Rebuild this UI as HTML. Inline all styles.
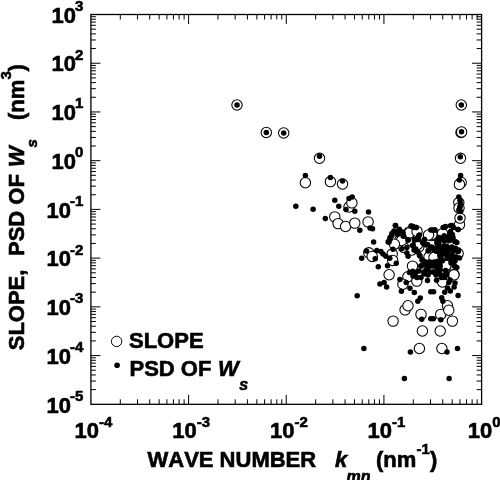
<!DOCTYPE html>
<html><head><meta charset="utf-8"><style>
html,body{margin:0;padding:0;background:#fff;width:500px;height:480px;overflow:hidden}
svg{display:block}
</style></head><body>
<svg width="500" height="480" viewBox="0 0 500 480">
<rect width="500" height="480" fill="#fff"/>
<rect x="90.9" y="14.5" width="390.70" height="389.80" fill="none" stroke="#000" stroke-width="1.3"/>
<path d="M120.30 404.3V399.3M120.30 14.5V19.5M137.50 404.3V399.3M137.50 14.5V19.5M149.71 404.3V399.3M149.71 14.5V19.5M159.17 404.3V399.3M159.17 14.5V19.5M166.91 404.3V399.3M166.91 14.5V19.5M173.44 404.3V399.3M173.44 14.5V19.5M179.11 404.3V399.3M179.11 14.5V19.5M184.11 404.3V399.3M184.11 14.5V19.5M188.58 404.3V394.8M188.58 14.5V24.0M217.98 404.3V399.3M217.98 14.5V19.5M235.18 404.3V399.3M235.18 14.5V19.5M247.38 404.3V399.3M247.38 14.5V19.5M256.85 404.3V399.3M256.85 14.5V19.5M264.58 404.3V399.3M264.58 14.5V19.5M271.12 404.3V399.3M271.12 14.5V19.5M276.78 404.3V399.3M276.78 14.5V19.5M281.78 404.3V399.3M281.78 14.5V19.5M286.25 404.3V394.8M286.25 14.5V24.0M315.65 404.3V399.3M315.65 14.5V19.5M332.85 404.3V399.3M332.85 14.5V19.5M345.06 404.3V399.3M345.06 14.5V19.5M354.52 404.3V399.3M354.52 14.5V19.5M362.26 404.3V399.3M362.26 14.5V19.5M368.79 404.3V399.3M368.79 14.5V19.5M374.46 404.3V399.3M374.46 14.5V19.5M379.46 404.3V399.3M379.46 14.5V19.5M383.93 404.3V394.8M383.93 14.5V24.0M413.33 404.3V399.3M413.33 14.5V19.5M430.53 404.3V399.3M430.53 14.5V19.5M442.73 404.3V399.3M442.73 14.5V19.5M452.20 404.3V399.3M452.20 14.5V19.5M459.93 404.3V399.3M459.93 14.5V19.5M466.47 404.3V399.3M466.47 14.5V19.5M472.13 404.3V399.3M472.13 14.5V19.5M477.13 404.3V399.3M477.13 14.5V19.5M90.9 389.63H95.9M481.6 389.63H476.6M90.9 381.05H95.9M481.6 381.05H476.6M90.9 374.96H95.9M481.6 374.96H476.6M90.9 370.24H95.9M481.6 370.24H476.6M90.9 366.38H95.9M481.6 366.38H476.6M90.9 363.12H95.9M481.6 363.12H476.6M90.9 360.30H95.9M481.6 360.30H476.6M90.9 357.80H95.9M481.6 357.80H476.6M90.9 355.57H100.4M481.6 355.57H472.1M90.9 340.91H95.9M481.6 340.91H476.6M90.9 332.33H95.9M481.6 332.33H476.6M90.9 326.24H95.9M481.6 326.24H476.6M90.9 321.52H95.9M481.6 321.52H476.6M90.9 317.66H95.9M481.6 317.66H476.6M90.9 314.40H95.9M481.6 314.40H476.6M90.9 311.57H95.9M481.6 311.57H476.6M90.9 309.08H95.9M481.6 309.08H476.6M90.9 306.85H100.4M481.6 306.85H472.1M90.9 292.18H95.9M481.6 292.18H476.6M90.9 283.60H95.9M481.6 283.60H476.6M90.9 277.51H95.9M481.6 277.51H476.6M90.9 272.79H95.9M481.6 272.79H476.6M90.9 268.93H95.9M481.6 268.93H476.6M90.9 265.67H95.9M481.6 265.67H476.6M90.9 262.85H95.9M481.6 262.85H476.6M90.9 260.35H95.9M481.6 260.35H476.6M90.9 258.12H100.4M481.6 258.12H472.1M90.9 243.46H95.9M481.6 243.46H476.6M90.9 234.88H95.9M481.6 234.88H476.6M90.9 228.79H95.9M481.6 228.79H476.6M90.9 224.07H95.9M481.6 224.07H476.6M90.9 220.21H95.9M481.6 220.21H476.6M90.9 216.95H95.9M481.6 216.95H476.6M90.9 214.12H95.9M481.6 214.12H476.6M90.9 211.63H95.9M481.6 211.63H476.6M90.9 209.40H100.4M481.6 209.40H472.1M90.9 194.73H95.9M481.6 194.73H476.6M90.9 186.15H95.9M481.6 186.15H476.6M90.9 180.06H95.9M481.6 180.06H476.6M90.9 175.34H95.9M481.6 175.34H476.6M90.9 171.48H95.9M481.6 171.48H476.6M90.9 168.22H95.9M481.6 168.22H476.6M90.9 165.40H95.9M481.6 165.40H476.6M90.9 162.90H95.9M481.6 162.90H476.6M90.9 160.68H100.4M481.6 160.68H472.1M90.9 146.01H95.9M481.6 146.01H476.6M90.9 137.43H95.9M481.6 137.43H476.6M90.9 131.34H95.9M481.6 131.34H476.6M90.9 126.62H95.9M481.6 126.62H476.6M90.9 122.76H95.9M481.6 122.76H476.6M90.9 119.50H95.9M481.6 119.50H476.6M90.9 116.67H95.9M481.6 116.67H476.6M90.9 114.18H95.9M481.6 114.18H476.6M90.9 111.95H100.4M481.6 111.95H472.1M90.9 97.28H95.9M481.6 97.28H476.6M90.9 88.70H95.9M481.6 88.70H476.6M90.9 82.61H95.9M481.6 82.61H476.6M90.9 77.89H95.9M481.6 77.89H476.6M90.9 74.03H95.9M481.6 74.03H476.6M90.9 70.77H95.9M481.6 70.77H476.6M90.9 67.95H95.9M481.6 67.95H476.6M90.9 65.45H95.9M481.6 65.45H476.6M90.9 63.23H100.4M481.6 63.23H472.1M90.9 48.56H95.9M481.6 48.56H476.6M90.9 39.98H95.9M481.6 39.98H476.6M90.9 33.89H95.9M481.6 33.89H476.6M90.9 29.17H95.9M481.6 29.17H476.6M90.9 25.31H95.9M481.6 25.31H476.6M90.9 22.05H95.9M481.6 22.05H476.6M90.9 19.22H95.9M481.6 19.22H476.6M90.9 16.73H95.9M481.6 16.73H476.6" stroke="#000" stroke-width="1.0" fill="none"/>
<g font-family='"Liberation Sans", Arial, Helvetica, sans-serif' font-weight="bold" fill="#000" stroke="#000" stroke-width="0.6"><text x="83.4" y="412.50" text-anchor="end" font-size="22">10<tspan font-size="15" dx="-0.9" dy="-11.8">-5</tspan></text><text x="83.4" y="363.77" text-anchor="end" font-size="22">10<tspan font-size="15" dx="-0.9" dy="-11.8">-4</tspan></text><text x="83.4" y="315.05" text-anchor="end" font-size="22">10<tspan font-size="15" dx="-0.9" dy="-11.8">-3</tspan></text><text x="83.4" y="266.32" text-anchor="end" font-size="22">10<tspan font-size="15" dx="-0.9" dy="-11.8">-2</tspan></text><text x="83.4" y="217.60" text-anchor="end" font-size="22">10<tspan font-size="15" dx="-0.9" dy="-11.8">-1</tspan></text><text x="83.4" y="168.88" text-anchor="end" font-size="22">10<tspan font-size="15" dx="-0.9" dy="-11.8">0</tspan></text><text x="83.4" y="120.15" text-anchor="end" font-size="22">10<tspan font-size="15" dx="-0.9" dy="-11.8">1</tspan></text><text x="83.4" y="71.42" text-anchor="end" font-size="22">10<tspan font-size="15" dx="-0.9" dy="-11.8">2</tspan></text><text x="83.4" y="22.70" text-anchor="end" font-size="22">10<tspan font-size="15" dx="-0.9" dy="-11.8">3</tspan></text><text x="93.50" y="438" text-anchor="middle" font-size="22">10<tspan font-size="15" dy="-10.7">-4</tspan></text><text x="191.18" y="438" text-anchor="middle" font-size="22">10<tspan font-size="15" dy="-10.7">-3</tspan></text><text x="288.85" y="438" text-anchor="middle" font-size="22">10<tspan font-size="15" dy="-10.7">-2</tspan></text><text x="386.53" y="438" text-anchor="middle" font-size="22">10<tspan font-size="15" dy="-10.7">-1</tspan></text><text x="484.20" y="438" text-anchor="middle" font-size="22">10<tspan font-size="15" dy="-10.7">0</tspan></text></g>
<g font-family='"Liberation Sans", Arial, Helvetica, sans-serif' font-weight="bold" fill="#000" stroke="#000" stroke-width="0.6" style="font-kerning:none">
<text x="147.5" y="467" font-size="22">WAVE NUMBER</text>
<text x="335" y="467" font-size="22" font-style="italic">k</text>
<text x="346.5" y="482" font-size="16" font-style="italic">mn</text>
<text x="376" y="467" font-size="22">(nm</text>
<text x="416.5" y="454" font-size="15">-1</text>
<text x="430" y="467" font-size="22">)</text></g>
<g transform="rotate(-90)" font-family='"Liberation Sans", Arial, Helvetica, sans-serif' font-weight="bold" fill="#000" stroke="#000" stroke-width="0.6" style="font-kerning:none">
<text x="-350.3" y="23.8" font-size="22">SLOPE,</text>
<text x="-256" y="23.8" font-size="22">PSD OF</text>
<text x="-167" y="23.8" font-size="22" font-style="italic">W</text>
<text x="-147.5" y="36.5" font-size="15" font-style="italic">s</text>
<text x="-120" y="23.8" font-size="22">(nm</text>
<text x="-79.5" y="10.7" font-size="15">3</text>
<text x="-71.5" y="23.8" font-size="22">)</text></g>
<circle cx="116.6" cy="341.4" r="5.2" fill="#fff" stroke="#000" stroke-width="1"/>
<circle cx="117.1" cy="365.2" r="2.8" fill="#000"/>
<g font-family='"Liberation Sans", Arial, Helvetica, sans-serif' font-weight="bold" fill="#000" stroke="#000" stroke-width="0.6" style="font-kerning:none">
<text x="129" y="348.3" font-size="22">SLOPE</text>
<text x="129.5" y="375.5" font-size="22">PSD OF</text>
<text x="218" y="375.5" font-size="22" font-style="italic">W</text>
<text x="239.3" y="389.7" font-size="16" font-style="italic">s</text></g>
<g fill="#fff" stroke="#000" stroke-width="1.05"><circle cx="237" cy="105" r="5.2"/><circle cx="266.3" cy="132.5" r="5.2"/><circle cx="283.7" cy="133" r="5.2"/><circle cx="461.3" cy="105" r="5.2"/><circle cx="461.0" cy="132.5" r="5.2"/><circle cx="461.6" cy="132.0" r="5.2"/><circle cx="319.5" cy="158.3" r="5.2"/><circle cx="460.5" cy="158.3" r="5.2"/><circle cx="305.4" cy="182.7" r="5.2"/><circle cx="330.4" cy="181.6" r="5.2"/><circle cx="342.5" cy="184" r="5.2"/><circle cx="461.2" cy="182.5" r="5.2"/><circle cx="459.4" cy="184.4" r="5.2"/><circle cx="458.8" cy="202.5" r="5.2"/><circle cx="459" cy="208" r="5.2"/><circle cx="459.5" cy="224.6" r="5.2"/><circle cx="460" cy="218.1" r="5.2"/><circle cx="334.8" cy="216.9" r="5.2"/><circle cx="338.1" cy="223.6" r="5.2"/><circle cx="345.6" cy="226.5" r="5.2"/><circle cx="354.8" cy="223.1" r="5.2"/><circle cx="368.1" cy="221.9" r="5.2"/><circle cx="349" cy="207" r="5.2"/><circle cx="351.9" cy="202.9" r="5.2"/><circle cx="368.8" cy="252.8" r="5.2"/><circle cx="372.2" cy="256.4" r="5.2"/><circle cx="389.1" cy="274.7" r="5.2"/><circle cx="392.2" cy="253.9" r="5.2"/><circle cx="392.7" cy="260.4" r="5.2"/><circle cx="409.4" cy="231.9" r="5.2"/><circle cx="416.2" cy="233.8" r="5.2"/><circle cx="431.9" cy="235.6" r="5.2"/><circle cx="442.5" cy="233.6" r="5.2"/><circle cx="400" cy="240" r="5.2"/><circle cx="403.8" cy="247.5" r="5.2"/><circle cx="411.9" cy="250" r="5.2"/><circle cx="418.8" cy="246.9" r="5.2"/><circle cx="432.5" cy="257.5" r="5.2"/><circle cx="412.5" cy="266.1" r="5.2"/><circle cx="458.1" cy="253.5" r="5.2"/><circle cx="433.1" cy="254.6" r="5.2"/><circle cx="407.9" cy="276.8" r="5.2"/><circle cx="416.8" cy="281.1" r="5.2"/><circle cx="402.9" cy="284.3" r="5.2"/><circle cx="405.1" cy="309.9" r="5.2"/><circle cx="408.0" cy="305.8" r="5.2"/><circle cx="421.0" cy="314.4" r="5.2"/><circle cx="440.7" cy="314.4" r="5.2"/><circle cx="443.8" cy="280" r="5.2"/><circle cx="453.9" cy="274.5" r="5.2"/><circle cx="442.5" cy="282" r="5.2"/><circle cx="445.6" cy="266.5" r="5.2"/><circle cx="447.5" cy="305.8" r="5.2"/><circle cx="448.8" cy="310.3" r="5.2"/><circle cx="452.4" cy="321.1" r="5.2"/><circle cx="422.4" cy="331.0" r="5.2"/><circle cx="440.2" cy="331.0" r="5.2"/><circle cx="393.1" cy="321.1" r="5.2"/><circle cx="419.4" cy="348.5" r="5.2"/><circle cx="441.9" cy="348.5" r="5.2"/><circle cx="409.4" cy="233" r="5.2"/><circle cx="401.6" cy="240.5" r="5.2"/><circle cx="394.4" cy="244.2" r="5.2"/><circle cx="417" cy="231.4" r="5.2"/><circle cx="432" cy="234.5" r="5.2"/><circle cx="428.5" cy="235" r="5.2"/><circle cx="417.6" cy="244.5" r="5.2"/><circle cx="429" cy="257" r="5.2"/><circle cx="434" cy="257.5" r="5.2"/><circle cx="446" cy="265.5" r="5.2"/><circle cx="453.9" cy="274.9" r="5.2"/></g>
<g fill="#000"><circle cx="237" cy="105" r="2.75"/><circle cx="266.3" cy="132.5" r="2.75"/><circle cx="283.7" cy="133" r="2.75"/><circle cx="461.3" cy="105" r="2.75"/><circle cx="461.5" cy="131.8" r="2.75"/><circle cx="319.5" cy="156.3" r="2.75"/><circle cx="460.3" cy="156.7" r="2.75"/><circle cx="305.4" cy="175.6" r="2.75"/><circle cx="330.4" cy="177.5" r="2.75"/><circle cx="342.5" cy="181" r="2.75"/><circle cx="460.6" cy="175.6" r="2.75"/><circle cx="459.4" cy="180" r="2.75"/><circle cx="458.8" cy="196.9" r="2.75"/><circle cx="460" cy="200.6" r="2.75"/><circle cx="460" cy="206.2" r="2.75"/><circle cx="458.8" cy="210" r="2.75"/><circle cx="460" cy="218.1" r="2.75"/><circle cx="295.8" cy="206.2" r="2.75"/><circle cx="313.1" cy="209.2" r="2.75"/><circle cx="325.3" cy="218.4" r="2.75"/><circle cx="334.8" cy="200.2" r="2.75"/><circle cx="338.8" cy="206.2" r="2.75"/><circle cx="349" cy="198.5" r="2.75"/><circle cx="352.2" cy="196.9" r="2.75"/><circle cx="346" cy="209.4" r="2.75"/><circle cx="354.8" cy="211.2" r="2.75"/><circle cx="368.5" cy="211.9" r="2.75"/><circle cx="359.8" cy="230.2" r="2.75"/><circle cx="370" cy="228.1" r="2.75"/><circle cx="372.5" cy="228.8" r="2.75"/><circle cx="373.6" cy="242" r="2.75"/><circle cx="366.4" cy="250.9" r="2.75"/><circle cx="361.7" cy="258.2" r="2.75"/><circle cx="375.2" cy="258.8" r="2.75"/><circle cx="376.8" cy="250.4" r="2.75"/><circle cx="380.9" cy="251.5" r="2.75"/><circle cx="383" cy="254.1" r="2.75"/><circle cx="385.9" cy="256.2" r="2.75"/><circle cx="389.8" cy="258.2" r="2.75"/><circle cx="393.0" cy="249.2" r="2.75"/><circle cx="378.3" cy="266.8" r="2.75"/><circle cx="387.5" cy="265.8" r="2.75"/><circle cx="379.9" cy="284.0" r="2.75"/><circle cx="384.1" cy="282.6" r="2.75"/><circle cx="386.6" cy="287.1" r="2.75"/><circle cx="388.9" cy="242.2" r="2.75"/><circle cx="357.2" cy="295.8" r="2.75"/><circle cx="395.6" cy="225.6" r="2.75"/><circle cx="411.2" cy="226.2" r="2.75"/><circle cx="416.2" cy="227.5" r="2.75"/><circle cx="432.5" cy="230.1" r="2.75"/><circle cx="435" cy="230" r="2.75"/><circle cx="443.1" cy="227.5" r="2.75"/><circle cx="393.8" cy="231.2" r="2.75"/><circle cx="398.8" cy="230.6" r="2.75"/><circle cx="403.1" cy="233.1" r="2.75"/><circle cx="391.9" cy="235.6" r="2.75"/><circle cx="403.8" cy="236.2" r="2.75"/><circle cx="390" cy="239.4" r="2.75"/><circle cx="408.1" cy="240" r="2.75"/><circle cx="418.8" cy="235.6" r="2.75"/><circle cx="415" cy="240" r="2.75"/><circle cx="424.4" cy="239.4" r="2.75"/><circle cx="422.5" cy="242.5" r="2.75"/><circle cx="426.2" cy="245" r="2.75"/><circle cx="440" cy="240" r="2.75"/><circle cx="436.9" cy="243.2" r="2.75"/><circle cx="442.5" cy="247.5" r="2.75"/><circle cx="401.9" cy="248.8" r="2.75"/><circle cx="406.9" cy="247.5" r="2.75"/><circle cx="412.5" cy="245.6" r="2.75"/><circle cx="406.9" cy="253.1" r="2.75"/><circle cx="408.1" cy="256.2" r="2.75"/><circle cx="416.2" cy="251.2" r="2.75"/><circle cx="419.4" cy="255" r="2.75"/><circle cx="422.5" cy="260" r="2.75"/><circle cx="425" cy="265" r="2.75"/><circle cx="428.8" cy="250" r="2.75"/><circle cx="436.2" cy="251.2" r="2.75"/><circle cx="440" cy="255" r="2.75"/><circle cx="437.5" cy="261.2" r="2.75"/><circle cx="435" cy="266.2" r="2.75"/><circle cx="396.3" cy="263.2" r="2.75"/><circle cx="445.6" cy="226.5" r="2.75"/><circle cx="451.9" cy="225.4" r="2.75"/><circle cx="458.1" cy="229.6" r="2.75"/><circle cx="449.8" cy="233.2" r="2.75"/><circle cx="441.5" cy="237.9" r="2.75"/><circle cx="455" cy="241.6" r="2.75"/><circle cx="450.8" cy="240" r="2.75"/><circle cx="446.7" cy="246.2" r="2.75"/><circle cx="432.1" cy="247.3" r="2.75"/><circle cx="454" cy="249.4" r="2.75"/><circle cx="458.1" cy="251.5" r="2.75"/><circle cx="440.4" cy="251.5" r="2.75"/><circle cx="447.7" cy="254.6" r="2.75"/><circle cx="456.0" cy="257.1" r="2.75"/><circle cx="442.5" cy="260.8" r="2.75"/><circle cx="451.4" cy="262.4" r="2.75"/><circle cx="409.4" cy="272.5" r="2.75"/><circle cx="412.5" cy="271.2" r="2.75"/><circle cx="413.8" cy="275.6" r="2.75"/><circle cx="416.9" cy="277.5" r="2.75"/><circle cx="421.0" cy="277.5" r="2.75"/><circle cx="399.9" cy="279.5" r="2.75"/><circle cx="406.2" cy="282.5" r="2.75"/><circle cx="427.5" cy="280.5" r="2.75"/><circle cx="436.6" cy="280.3" r="2.75"/><circle cx="410.0" cy="288.2" r="2.75"/><circle cx="401.4" cy="291.2" r="2.75"/><circle cx="414.3" cy="292.5" r="2.75"/><circle cx="430.8" cy="291.8" r="2.75"/><circle cx="433.6" cy="291.8" r="2.75"/><circle cx="420.3" cy="298.1" r="2.75"/><circle cx="417.8" cy="301.3" r="2.75"/><circle cx="441.7" cy="297.8" r="2.75"/><circle cx="442.9" cy="301.3" r="2.75"/><circle cx="444.7" cy="292.2" r="2.75"/><circle cx="441.5" cy="277.4" r="2.75"/><circle cx="430" cy="262" r="2.75"/><circle cx="428" cy="268" r="2.75"/><circle cx="433" cy="272" r="2.75"/><circle cx="440" cy="266" r="2.75"/><circle cx="438" cy="271" r="2.75"/><circle cx="424" cy="272" r="2.75"/><circle cx="455" cy="266.5" r="2.75"/><circle cx="445.6" cy="270.6" r="2.75"/><circle cx="446.7" cy="274.6" r="2.75"/><circle cx="444.6" cy="277.4" r="2.75"/><circle cx="450.1" cy="280.1" r="2.75"/><circle cx="448.8" cy="282.6" r="2.75"/><circle cx="455.0" cy="283.0" r="2.75"/><circle cx="454.1" cy="287.0" r="2.75"/><circle cx="447.5" cy="287.9" r="2.75"/><circle cx="450.3" cy="291.1" r="2.75"/><circle cx="458.1" cy="295.5" r="2.75"/><circle cx="421.7" cy="319.2" r="2.75"/><circle cx="430.8" cy="318.7" r="2.75"/><circle cx="433.3" cy="318.7" r="2.75"/><circle cx="440.8" cy="319.7" r="2.75"/><circle cx="415.8" cy="272.5" r="2.75"/><circle cx="363.9" cy="348.5" r="2.75"/><circle cx="410.4" cy="352.1" r="2.75"/><circle cx="447" cy="352.1" r="2.75"/><circle cx="457.5" cy="348.5" r="2.75"/><circle cx="404.4" cy="378.5" r="2.75"/><circle cx="449.1" cy="378.5" r="2.75"/><circle cx="395.3" cy="225.5" r="2.75"/><circle cx="399.4" cy="229.2" r="2.75"/><circle cx="394.4" cy="231.1" r="2.75"/><circle cx="402.5" cy="232" r="2.75"/><circle cx="391.9" cy="233.6" r="2.75"/><circle cx="397.5" cy="234.2" r="2.75"/><circle cx="403.1" cy="236.1" r="2.75"/><circle cx="390" cy="237.4" r="2.75"/><circle cx="388.1" cy="241.8" r="2.75"/><circle cx="411.2" cy="226.1" r="2.75"/><circle cx="413.8" cy="227.4" r="2.75"/><circle cx="408.1" cy="239.9" r="2.75"/><circle cx="414.4" cy="239.2" r="2.75"/><circle cx="413.2" cy="226.4" r="2.75"/><circle cx="416.4" cy="227.6" r="2.75"/><circle cx="430.8" cy="230.1" r="2.75"/><circle cx="434.5" cy="230.1" r="2.75"/><circle cx="419.5" cy="235.1" r="2.75"/><circle cx="418.5" cy="239.5" r="2.75"/><circle cx="424.5" cy="239.5" r="2.75"/><circle cx="414.5" cy="240" r="2.75"/><circle cx="423.9" cy="243.9" r="2.75"/><circle cx="427.6" cy="244.5" r="2.75"/><circle cx="437" cy="240.8" r="2.75"/><circle cx="438.9" cy="244.5" r="2.75"/><circle cx="430.8" cy="247" r="2.75"/><circle cx="435.8" cy="248.2" r="2.75"/><circle cx="413.2" cy="245.1" r="2.75"/><circle cx="415.8" cy="248.9" r="2.75"/><circle cx="440.8" cy="250" r="2.75"/><circle cx="444.9" cy="227" r="2.75"/><circle cx="450.5" cy="225.8" r="2.75"/><circle cx="453.6" cy="227.6" r="2.75"/><circle cx="458" cy="229.5" r="2.75"/><circle cx="450.5" cy="231.4" r="2.75"/><circle cx="452.4" cy="234.5" r="2.75"/><circle cx="438.6" cy="237.6" r="2.75"/><circle cx="444.2" cy="235.8" r="2.75"/><circle cx="448.6" cy="237.6" r="2.75"/><circle cx="453" cy="237.6" r="2.75"/><circle cx="439.2" cy="240.8" r="2.75"/><circle cx="444.2" cy="240.8" r="2.75"/><circle cx="448.6" cy="240.8" r="2.75"/><circle cx="454.9" cy="241.4" r="2.75"/><circle cx="456.8" cy="242.6" r="2.75"/><circle cx="444.2" cy="245.8" r="2.75"/><circle cx="447.4" cy="248.2" r="2.75"/><circle cx="451.8" cy="247" r="2.75"/><circle cx="455.5" cy="248.2" r="2.75"/><circle cx="458.6" cy="250" r="2.75"/><circle cx="440" cy="248" r="2.75"/><circle cx="414" cy="250" r="2.75"/><circle cx="418" cy="252" r="2.75"/><circle cx="428" cy="251" r="2.75"/><circle cx="434" cy="250" r="2.75"/><circle cx="438" cy="251" r="2.75"/><circle cx="420" cy="256" r="2.75"/><circle cx="422" cy="260" r="2.75"/><circle cx="424" cy="264" r="2.75"/><circle cx="421" cy="266" r="2.75"/><circle cx="426" cy="262" r="2.75"/><circle cx="434" cy="262" r="2.75"/><circle cx="440" cy="256" r="2.75"/><circle cx="428" cy="266" r="2.75"/><circle cx="432" cy="266" r="2.75"/><circle cx="436" cy="266" r="2.75"/><circle cx="440" cy="262" r="2.75"/><circle cx="426" cy="270" r="2.75"/><circle cx="430" cy="272" r="2.75"/><circle cx="434" cy="272" r="2.75"/><circle cx="438" cy="270" r="2.75"/><circle cx="424" cy="274" r="2.75"/><circle cx="428" cy="275" r="2.75"/><circle cx="436" cy="275" r="2.75"/><circle cx="440" cy="274" r="2.75"/><circle cx="413" cy="272" r="2.75"/><circle cx="413" cy="276" r="2.75"/><circle cx="442" cy="250" r="2.75"/><circle cx="446" cy="250" r="2.75"/><circle cx="450" cy="250" r="2.75"/><circle cx="454" cy="251" r="2.75"/><circle cx="458" cy="251" r="2.75"/><circle cx="444" cy="254" r="2.75"/><circle cx="448" cy="254" r="2.75"/><circle cx="452" cy="255" r="2.75"/><circle cx="456" cy="257" r="2.75"/><circle cx="459.5" cy="258" r="2.75"/><circle cx="441" cy="258" r="2.75"/><circle cx="447" cy="258" r="2.75"/><circle cx="451" cy="259" r="2.75"/><circle cx="455" cy="261" r="2.75"/><circle cx="440" cy="262" r="2.75"/><circle cx="440" cy="266" r="2.75"/><circle cx="440" cy="270" r="2.75"/><circle cx="451.1" cy="263" r="2.75"/><circle cx="454.2" cy="265.5" r="2.75"/><circle cx="456.8" cy="267.4" r="2.75"/><circle cx="446.1" cy="272.4" r="2.75"/><circle cx="444.2" cy="275.5" r="2.75"/><circle cx="460.5" cy="203.5" r="2.75"/><circle cx="459.8" cy="207.8" r="2.75"/><circle cx="460.6" cy="211.5" r="2.75"/><circle cx="419" cy="271" r="2.75"/><circle cx="421" cy="266" r="2.75"/></g>
</svg>
</body></html>
